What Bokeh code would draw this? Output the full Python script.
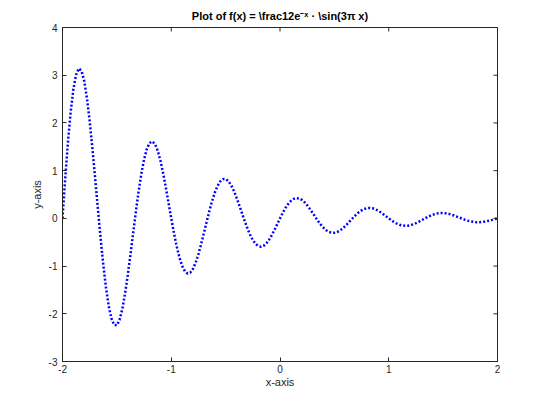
from math import pi

from bokeh.plotting import figure
from bokeh.models import Range1d
from bokeh.embed import file_html
from bokeh.resources import INLINE

# samples (x, f(x))
x_vals = [
    -2.0, -1.975, -1.95, -1.925, -1.9, -1.875, -1.85, -1.825, -1.8, -1.775,
    -1.75, -1.725, -1.7, -1.675, -1.65, -1.625, -1.6, -1.575, -1.55, -1.525,
    -1.5, -1.475, -1.45, -1.425, -1.4, -1.375, -1.35, -1.325, -1.3, -1.275,
    -1.25, -1.225, -1.2, -1.175, -1.15, -1.125, -1.1, -1.075, -1.05, -1.025,
    -1.0, -0.975, -0.95, -0.925, -0.9, -0.875, -0.85, -0.825, -0.8, -0.775,
    -0.75, -0.725, -0.7, -0.675, -0.65, -0.625, -0.6, -0.575, -0.55, -0.525,
    -0.5, -0.475, -0.45, -0.425, -0.4, -0.375, -0.35, -0.325, -0.3, -0.275,
    -0.25, -0.225, -0.2, -0.175, -0.15, -0.125, -0.1, -0.075, -0.05, -0.025,
    0.0, 0.025, 0.05, 0.075, 0.1, 0.125, 0.15, 0.175, 0.2, 0.225,
    0.25, 0.275, 0.3, 0.325, 0.35, 0.375, 0.4, 0.425, 0.45, 0.475,
    0.5, 0.525, 0.55, 0.575, 0.6, 0.625, 0.65, 0.675, 0.7, 0.725,
    0.75, 0.775, 0.8, 0.825, 0.85, 0.875, 0.9, 0.925, 0.95, 0.975,
    1.0, 1.025, 1.05, 1.075, 1.1, 1.125, 1.15, 1.175, 1.2, 1.225,
    1.25, 1.275, 1.3, 1.325, 1.35, 1.375, 1.4, 1.425, 1.45, 1.475,
    1.5, 1.525, 1.55, 1.575, 1.6, 1.625, 1.65, 1.675, 1.7, 1.725,
    1.75, 1.775, 1.8, 1.825, 1.85, 1.875, 1.9, 1.925, 1.95, 1.975,
    2.0,
]
y_vals = [
    0.0, 0.841, 1.595, 2.226, 2.705, 3.012, 3.141, 3.092, 2.877, 2.515,
    2.035, 1.466, 0.846, 0.209, -0.407, -0.972, -1.456, -1.837, -2.099, -2.234,
    -2.241, -2.125, -1.899, -1.581, -1.192, -0.757, -0.302, 0.148, 0.567, 0.935,
    1.234, 1.451, 1.579, 1.614, 1.560, 1.423, 1.215, 0.951, 0.649, 0.325,
    0.0, -0.309, -0.587, -0.819, -0.995, -1.108, -1.155, -1.137, -1.058, -0.925,
    -0.748, -0.539, -0.311, -0.077, 0.150, 0.357, 0.536, 0.676, 0.772, 0.822,
    0.824, 0.782, 0.699, 0.582, 0.438, 0.278, 0.111, -0.054, -0.209, -0.344,
    -0.454, -0.534, -0.581, -0.594, -0.574, -0.523, -0.447, -0.350, -0.239, -0.120,
    0.0, 0.114, 0.216, 0.301, 0.366, 0.408, 0.425, 0.418, 0.389, 0.340,
    0.275, 0.198, 0.114, 0.028, -0.055, -0.132, -0.197, -0.249, -0.284, -0.302,
    -0.303, -0.288, -0.257, -0.214, -0.161, -0.102, -0.041, 0.020, 0.077, 0.127,
    0.167, 0.196, 0.214, 0.218, 0.211, 0.193, 0.164, 0.129, 0.088, 0.044,
    0.0, -0.042, -0.079, -0.111, -0.135, -0.150, -0.156, -0.154, -0.143, -0.125,
    -0.101, -0.073, -0.042, -0.010, 0.020, 0.048, 0.072, 0.091, 0.105, 0.111,
    0.112, 0.106, 0.095, 0.079, 0.059, 0.038, 0.015, -0.007, -0.028, -0.047,
    -0.061, -0.072, -0.079, -0.080, -0.078, -0.071, -0.061, -0.047, -0.032, -0.016,
    0.0,
]
x_ticks = [-2, -1, 0, 1, 2]
y_ticks = [-3, -2, -1, 0, 1, 2, 3, 4]
x_tick_labels = ["-2", "-1", "0", "1", "2"]
y_tick_labels = ["-3", "-2", "-1", "0", "1", "2", "3", "4"]

# exponent written with superscript characters so the title stays one text
title_text = "Plot of f(x) = \\frac12e\u207b\u02e3 \u00b7 \\sin(3\u03c0 x)"

AXIS = "#262626"
FONT = "Liberation Sans"

x_lo, x_hi = x_ticks[0], x_ticks[-1]
y_lo, y_hi = y_ticks[0], y_ticks[-1]

p = figure(width=529, height=390, title=title_text,
           x_range=Range1d(x_lo, x_hi), y_range=Range1d(y_lo, y_hi),
           output_backend="svg", toolbar_location=None,
           min_border_left=62, min_border_right=32,
           min_border_top=27, min_border_bottom=27)
p.grid.visible = False
p.outline_line_color = AXIS
p.background_fill_color = "white"
p.border_fill_color = "white"

p.title.align = "center"
p.title.text_font = FONT
p.title.text_font_style = "bold"
p.title.text_font_size = "11px"
p.title.text_color = "black"
p.title.standoff = 12

p.line(x_vals, y_vals, line_color="#0000ff", line_width=2.5, line_dash="2 2")

# inward ticks on the top and right edges (half of each dash is clipped by the frame)
p.scatter(x_ticks, [y_hi] * len(x_ticks), marker="dash", angle=pi / 2, size=8,
          line_color=AXIS, line_width=1)
p.scatter([x_hi] * len(y_ticks), y_ticks, marker="dash", angle=0, size=8,
          line_color=AXIS, line_width=1)

p.xaxis.ticker = x_ticks
p.yaxis.ticker = y_ticks
# plain hyphen minus, as in the original
p.xaxis.major_label_overrides = dict(zip(x_ticks, x_tick_labels))
p.yaxis.major_label_overrides = dict(zip(y_ticks, y_tick_labels))

for ax in p.axis:
    ax.major_tick_in = 4
    ax.major_tick_out = 0
    ax.minor_tick_line_color = None
    ax.axis_line_color = AXIS
    ax.major_tick_line_color = AXIS
    ax.major_label_text_color = AXIS
    ax.major_label_text_font = FONT
    ax.major_label_text_font_size = "10px"
    ax.axis_label_text_font = FONT
    ax.axis_label_text_font_size = "11px"
    ax.axis_label_text_font_style = "normal"
    ax.axis_label_text_color = AXIS

p.xaxis.axis_label = "x-axis"
p.yaxis.axis_label = "y-axis"
p.xaxis.major_label_standoff = 3
p.xaxis.axis_label_standoff = 0
p.yaxis.major_label_standoff = 5
p.yaxis.axis_label_standoff = 3

open("out.html", "w").write(file_html(p, INLINE))
